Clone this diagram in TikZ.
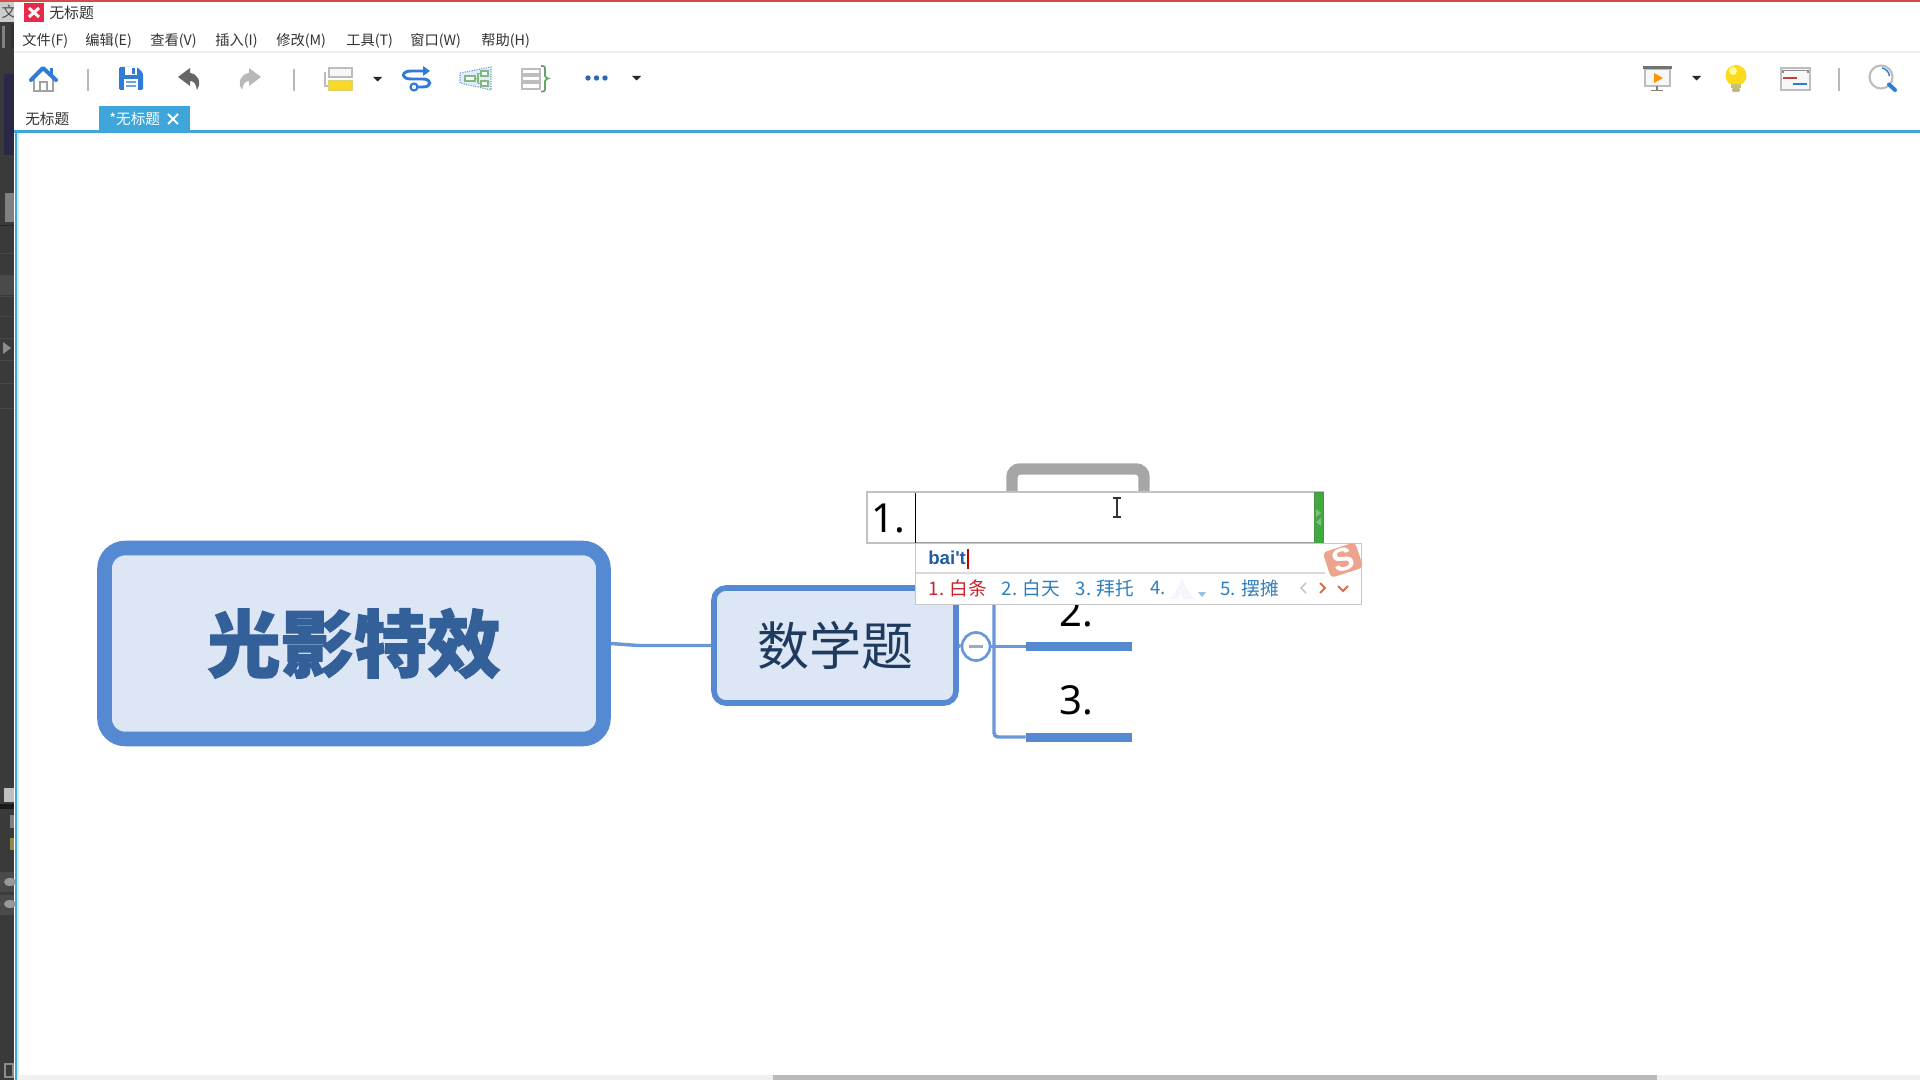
\documentclass[tikz,border=0pt]{standalone}
\usepackage{fontspec}
\setmainfont{Noto Sans CJK SC}
\newfontfamily\latf{Noto Sans}
\newfontfamily\arialf{Liberation Sans}
\newfontfamily\heavyf[BoldFeatures={FakeBold=1.6}]{Noto Sans CJK SC}
\definecolor{topicblue}{HTML}{558AD3}
\definecolor{topicfill}{HTML}{DCE6F4}
\definecolor{linkblue}{HTML}{6A97D6}
\definecolor{tabblue}{HTML}{3EA6DA}
\definecolor{iconblue}{HTML}{2F7BD6}
\definecolor{imeblue}{HTML}{2F7FBF}
\definecolor{imered}{HTML}{C8242E}
\definecolor{imeorange}{HTML}{E06C48}
\definecolor{darkstrip}{HTML}{3A3A3A}
\definecolor{iconGray}{HTML}{BDBDBD}
\definecolor{HTMLbig}{HTML}{34609A}
\definecolor{HTMLmid}{HTML}{1F3A5F}
\definecolor{topline}{HTML}{D64A48}
\tikzset{
  menuitem/.style={anchor=west,inner sep=0pt,font=\fontsize{10.7}{12}\selectfont,text=black!80},
  bigtopic/.style={draw=topicblue,fill=topicfill,rounded corners=15.5pt,line width=10.9pt,
     minimum width=374.25pt,minimum height=143.25pt,inner sep=0pt,
     font=\heavyf\fontsize{55}{60}\bfseries\selectfont,text=HTMLbig},
  midtopic/.style={draw=topicblue,fill=topicfill,rounded corners=9pt,line width=4.2pt,
     minimum width=181.5pt,minimum height=86.25pt,inner sep=0pt,
     font=\fontsize{39}{44}\selectfont,text=HTMLmid},
  bar/.style={fill=topicblue,minimum width=79.5pt,minimum height=6.75pt,inner sep=0pt},
  num/.style={inner sep=0pt,font=\latf\fontsize{30}{34}\selectfont,text=black},
  cand/.style={anchor=west,inner sep=0pt,font=\fontsize{14}{16}\selectfont,text=imeblue},
  link/.style={draw=linkblue,line width=2.6pt},
  drop/.style={fill=black!85,draw=none},
  sep/.style={draw=black!28,line width=1pt},
  stripline/.style={draw=black!72,line width=.6pt},
}
\begin{document}
\begin{tikzpicture}[x=0.75pt,y=-0.75pt]
\useasboundingbox (0,0) rectangle (1920,1080);
\fill[white] (0,0) rectangle (1920,1080);
% left strip (the application behind the window)
\fill[darkstrip] (0,0) rectangle (14,1080);
\fill[black!20] (0,0) rectangle (14,22);
\node[inner sep=0pt,font=\fontsize{11}{12}\selectfont,text=black!70] (behind) at (9,12) {文};
\fill[black!50] (2,26) rectangle (5,48);
\fill[black!15!darkstrip] (11,24) rectangle (14,48);
\fill[black!60!blue!30!darkstrip] (4,74) rectangle (14,155);
\fill[black!50] (5,193) rectangle (14,222);
\fill[black!85] (0,225) rectangle (14,226.5);
\fill[white!8!darkstrip] (0,275) rectangle (14,295);
\fill[black!45] (3,342) -- (11,348) -- (3,354) -- cycle;
\foreach \yy in {253,275,296,316,338,360,383,408}{\draw[stripline] (0,\yy) -- (14,\yy);}
\fill[black!25] (4,788) rectangle (14,802);
\fill[black!90] (0,804) rectangle (14,809);
\fill[black!50] (10,815) rectangle (14,828);
\fill[yellow!50!black] (10,838) rectangle (14,850);
\fill[white!8!darkstrip] (0,872) rectangle (14,892);
\fill[white!8!darkstrip] (0,895) rectangle (14,915);
\fill[black!40] (10,882) ellipse (6 and 4);
\fill[black!40] (10,904) ellipse (6 and 4);
\draw[black!45,line width=.8pt] (5,1064) rectangle (13,1077);
% window
\fill[white] (14,0) rectangle (1920,130);
\fill[topline] (0,0) rectangle (1920,1.6);
\draw[black!6,line width=1.5pt] (14,52) -- (1920,52);
\node[fill={rgb,255:red,232;green,41;blue,75},minimum width=15pt,minimum height=14.25pt,inner sep=0pt] (appicon) at (34,12.5) {};
\draw[white,line width=2.2pt] (29,8) -- (39,17) (39,8) -- (29,17);
\node[menuitem,font=\fontsize{11.2}{13}\selectfont] (title) at (49,12.5) {无标题};
\node[menuitem] (m1) at (22,41) {文件(F)};
\node[menuitem] (m2) at (85,41) {编辑(E)};
\node[menuitem] (m3) at (150,41) {查看(V)};
\node[menuitem] (m4) at (215,41) {插入(I)};
\node[menuitem] (m5) at (276,41) {修改(M)};
\node[menuitem] (m6) at (346,41) {工具(T)};
\node[menuitem] (m7) at (410,41) {窗口(W)};
\node[menuitem] (m8) at (481,41) {帮助(H)};
% home
\draw[iconGray!85!black,line width=.9pt,fill=white] (34,78) -- (34,91) -- (53,91) -- (53,78);
\draw[iconGray!85!black,line width=.9pt] (40,91) -- (40,82) -- (47,82) -- (47,91);
\draw[iconblue,line width=3pt,line cap=round,line join=round] (31,80) -- (43,68) -- (56,80);
\fill[iconblue] (50,68) rectangle (53,75);
\draw[sep] (88,69) -- (88,91);
% save
\fill[iconblue,rounded corners=1pt] (119,67) -- (137,67) -- (143,73) -- (143,90) -- (119,90) -- cycle;
\fill[white] (125,67) rectangle (137,75);
\fill[iconblue] (132,68) rectangle (135,74);
\fill[white] (124,79) rectangle (138,90);
\draw[iconblue!70,line width=.8pt] (126,82) -- (136,82) (126,86) -- (136,86);
% undo / redo
\fill[black!60] (178,77) -- (190,68) -- (190,73) .. controls (198,74) and (202,82) .. (197,90) .. controls (196,84) and (194,81) .. (190,81) -- (190,86) -- cycle;
\begin{scope}[shift={(439,0)},xscale=-1]
\fill[black!28] (178,77) -- (190,68) -- (190,73) .. controls (198,74) and (202,82) .. (197,90) .. controls (196,84) and (194,81) .. (190,81) -- (190,86) -- cycle;
\end{scope}
\draw[sep] (294,69) -- (294,91);
% topic icon
\draw[iconGray,line width=1pt] (325,72) -- (325,86) -- (329,86);
\draw[iconGray,line width=1.2pt,fill=black!3] (329,68) rectangle (352,77);
\draw[iconGray!60!yellow,line width=.8pt,fill=yellow!70!orange!85!white] (329,81) rectangle (352,90);
\fill[drop] (373,77) -- (382,77) -- (377.5,81.5) -- cycle;
% relationship icon
\draw[iconblue,line width=2.2pt] (425,71) -- (411,71) .. controls (401,71) and (401,79) .. (411,79) -- (423,79) .. controls (432,79) and (432,87) .. (423,87) -- (418,87);
\fill[iconblue] (423,66) -- (430,71) -- (423,76) -- cycle;
\draw[iconblue,line width=1.6pt,fill=white] (414,87) circle (3.5);
% boundary icon
\draw[iconblue!80,densely dotted,line width=.8pt,fill=iconblue!14] (460,73) -- (491,67) -- (491,90) -- (460,83) -- cycle;
\draw[green!45!black!50,line width=.9pt,fill=white] (465,76) rectangle (475,81) (481,71) rectangle (488,76) (481,81) rectangle (488,86);
\draw[green!45!black!50,line width=.9pt] (475,78.5) -- (478,78.5) (478,73.5) -- (478,83.5) (478,73.5) -- (481,73.5) (478,83.5) -- (481,83.5);
% summary icon
\draw[iconGray,line width=1pt,fill=white] (522,69) rectangle (540,74) (522,76) rectangle (540,81) (522,83) rectangle (540,89);
\draw[green!40!black!60,line width=1.3pt,rounded corners=1.5pt] (541,66) -- (545,66) -- (545,78) -- (549,78.5) -- (545,79) -- (545,91.5) -- (541,91.5);
% dots
\fill[iconblue!85!black] (588,78) circle (2.7) (596.5,78) circle (2.7) (605,78) circle (2.7);
\fill[drop] (632,76) -- (641,76) -- (636.5,80.5) -- cycle;
% presentation
\draw[iconGray,line width=1pt,fill=black!3] (1645,69) rectangle (1670,86);
\fill[black!55] (1642.5,66) rectangle (1672,69);
\fill[orange!85!yellow] (1654,73) -- (1654,83) -- (1663,78) -- cycle;
\draw[black!50,line width=1pt] (1657,86) -- (1657,90.5) (1651,90.5) -- (1663,90.5);
\fill[drop] (1692,76) -- (1701,76) -- (1696.5,80.5) -- cycle;
% bulb
\fill[yellow!75!orange!90!white] (1736,75.5) circle (10.5);
\fill[yellow!40!white] (1733,71) circle (4);
\fill[black!35!yellow!70!white] (1731,84) rectangle (1741,88);
\fill[black!50!yellow!60!white,rounded corners=1pt] (1732,88) rectangle (1740,92);
% notes icon
\draw[iconGray,line width=1.2pt,fill=black!3] (1781,68) rectangle (1810,90);
\draw[black!45,line width=.8pt] (1783,73) -- (1783,70.5) -- (1808,70.5) -- (1808,73);
\draw[red!70!black!75,line width=1.5pt] (1783,78.5) -- (1797,78.5);
\draw[iconblue,line width=1.5pt] (1793,84) -- (1807,84);
\draw[sep] (1839,68) -- (1839,91);
% search
\draw[iconGray,line width=1.6pt] (1881,77) circle (11.5);
\draw[iconblue,line width=1.1pt] (1882,68) arc (-80:-5:9);
\draw[iconblue,line width=3pt,line cap=round] (1889,84.5) -- (1895,90);
% tabs
\fill[tabblue] (99,106) rectangle (190,130);
\node[menuitem,font=\fontsize{11}{13}\selectfont] (tab1) at (25,119) {无标题};
\node[menuitem,font=\fontsize{11}{13}\selectfont,text=white] (tab2) at (109,119) {*无标题};
\draw[white,line width=1.4pt] (168,114) -- (178,124) (178,114) -- (168,124);
\fill[tabblue] (14,130) rectangle (1920,133);
\fill[tabblue] (14.5,130) rectangle (17,1080);
\fill[tabblue!25] (17,133) rectangle (18.5,1080);
% scrollbar
\fill[black!6] (18,1075) rectangle (1920,1080);
\fill[black!27] (773,1075) rectangle (1657,1080);
% map
\node[bigtopic] (big) at (354,643.5) {\raisebox{-2.4pt}{光影特效}};
\node[midtopic] (topic) at (835,645.5) {\raisebox{-2.6pt}{数学题}};
\coordinate (kink) at (638,645.5);
\draw[link] (big.east) -- (kink) -- (topic.west);
\node[draw=linkblue,fill=white,circle,line width=2pt,minimum size=21pt,inner sep=0pt] (fold) at (976,646.5) {};
\draw[black!25!topicblue!55,line width=1.8pt] (969,646.5) -- (983,646.5);
\node[bar] (bar2) at (1079,646.5) {};
\node[bar] (bar3) at (1079,737) {};
\coordinate (spine) at (994,646.5);
\coordinate (spinetop) at (994,600);
\draw[link] (topic.east) -- (fold.west);
\draw[link] (fold.east) -- (bar2.west);
\draw[link,rounded corners=3pt] (spinetop) -- (spine |- bar3.west) -- (bar3.west);
\node[num,anchor=base] (n2) at (1076,626) {2.};
\node[num,anchor=base] (n3) at (1076,714) {3.};
% handle above edit box
\draw[black!35,line width=8.6pt,rounded corners=6pt] (1012,494) -- (1012,469) -- (1144,469) -- (1144,494);
% edit box
\node[draw=black!24,fill=white,line width=.8pt,minimum width=342pt,minimum height=38.25pt,inner sep=0pt] (edit) at (1095,517.5) {};
\node[num,anchor=base west] (n1) at (871,532) {1.};
\draw[black,line width=1pt] (915.5,493) -- (915.5,543);
\draw[black!38,line width=.9pt] (915.5,542.5) -- (1314,542.5);
\fill[green!55!black!75!white] (1314,492) rectangle (1323,543);
\draw[green!40!black!70,line width=.6pt] (1314,492) rectangle (1323,543);
\fill[black!50!green!50] (1316,509) -- (1321,513) -- (1316,517) -- cycle;
\fill[black!50!green!50] (1321,518) -- (1316,522) -- (1321,526) -- cycle;
\draw[black!80,line width=.9pt] (1113,498) -- (1121,498) (1117,498) -- (1117,517) (1113,517) -- (1121,517);
% IME box
\node[draw=black!22,fill=white,line width=.9pt,minimum width=334.5pt,minimum height=45.75pt,inner sep=0pt] (ime) at (1138.75,574) {};
\draw[black!15,line width=.8pt] (916,573) -- (1325,573);
\node[anchor=west,inner sep=0pt,font=\arialf\fontsize{14}{16}\bfseries\selectfont,text=iconblue!75!black] (pin) at (928,558) {bai't};
\draw[red!75!black,line width=1pt] (968,549) -- (968,569);
\node[cand,text=imered] (c1) at (928.5,588) {1. 白条};
\node[cand] (c2) at (1001.5,588) {2. 白天};
\node[cand] (c3) at (1075.5,588) {3. 拜托};
\node[cand] (c4) at (1150,588) {4.};
\fill[black!8!blue!4] (1170,599) -- (1178,599) -- (1181,590) -- (1183,599) -- (1194,599) -- (1186,588) -- (1182,579) -- (1178,588) -- cycle;
\fill[imeblue!50] (1198,592) -- (1206,592) -- (1202,597) -- cycle;
\node[cand] (c5) at (1220,588) {5. 摆摊};
\draw[black!22,line width=1.3pt] (1306,583) -- (1301,588) -- (1306,593);
\draw[imeorange,line width=1.4pt] (1320,583) -- (1325,588) -- (1320,593);
\draw[imeorange,line width=1.4pt] (1338,586) -- (1343,591) -- (1348,586);
% logo
\node[fill=imeorange!62,rounded corners=3pt,minimum width=25.5pt,minimum height=20pt,inner sep=0pt,rotate=18,
      font=\arialf\fontsize{24}{25}\bfseries\selectfont,text=white] (logo) at (1343,560) {S};
\end{tikzpicture}
\end{document}
